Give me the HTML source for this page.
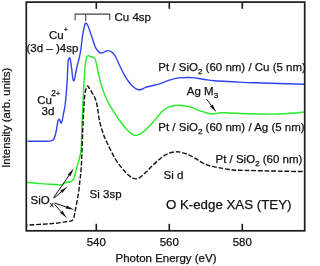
<!DOCTYPE html>
<html><head><meta charset="utf-8"><style>
html,body{margin:0;padding:0;background:#fff;width:307px;height:266px;overflow:hidden}
svg{display:block;will-change:transform}
text{stroke:#111;stroke-width:0.25}
text{font-family:"Liberation Sans",sans-serif;fill:#111}
</style></head><body>
<svg width="307" height="266" viewBox="0 0 307 266">
<defs><clipPath id="c"><rect x="26.5" y="2" width="278" height="229"/></clipPath></defs>
<g clip-path="url(#c)" fill="none" stroke-linejoin="round">
<path d="M27.50,141.20 C30.42,141.20 41.08,141.25 45.00,141.20 C48.92,141.15 49.58,141.18 51.00,140.90 C52.42,140.62 52.83,140.32 53.50,139.50 C54.17,138.68 54.53,137.48 55.00,136.00 C55.47,134.52 55.83,133.02 56.30,130.60 C56.77,128.18 57.37,123.38 57.80,121.50 C58.23,119.62 58.53,119.47 58.90,119.30 C59.27,119.13 59.62,119.83 60.00,120.50 C60.38,121.17 60.83,123.30 61.20,123.30 C61.57,123.30 61.82,122.12 62.20,120.50 C62.58,118.88 63.03,116.02 63.50,113.60 C63.97,111.18 64.55,109.27 65.00,106.00 C65.45,102.73 65.87,97.67 66.20,94.00 C66.53,90.33 66.77,87.67 67.00,84.00 C67.23,80.33 67.40,75.83 67.60,72.00 C67.80,68.17 67.92,63.37 68.20,61.00 C68.48,58.63 68.93,57.97 69.30,57.80 C69.67,57.63 70.00,58.13 70.40,60.00 C70.80,61.87 71.33,66.17 71.70,69.00 C72.07,71.83 72.32,75.07 72.60,77.00 C72.88,78.93 73.10,80.18 73.40,80.60 C73.70,81.02 73.92,81.27 74.40,79.50 C74.88,77.73 75.50,73.58 76.30,70.00 C77.10,66.42 78.45,61.33 79.20,58.00 C79.95,54.67 80.33,53.00 80.80,50.00 C81.27,47.00 81.53,43.33 82.00,40.00 C82.47,36.67 83.02,32.80 83.60,30.00 C84.18,27.20 84.85,24.03 85.50,23.20 C86.15,22.37 86.72,23.55 87.50,25.00 C88.28,26.45 89.28,29.35 90.20,31.90 C91.12,34.45 92.20,37.90 93.00,40.30 C93.80,42.70 94.33,44.68 95.00,46.30 C95.67,47.92 96.08,48.88 97.00,50.00 C97.92,51.12 99.50,52.57 100.50,53.00 C101.50,53.43 102.17,52.88 103.00,52.60 C103.83,52.32 104.58,51.63 105.50,51.30 C106.42,50.97 107.50,50.52 108.50,50.60 C109.50,50.68 110.57,51.17 111.50,51.80 C112.43,52.43 113.27,53.28 114.10,54.40 C114.93,55.52 115.72,56.93 116.50,58.50 C117.28,60.07 117.48,61.03 118.80,63.80 C120.12,66.57 122.95,72.40 124.40,75.10 C125.85,77.80 126.55,78.60 127.50,80.00 C128.45,81.40 129.10,82.33 130.10,83.50 C131.10,84.67 132.25,86.00 133.50,87.00 C134.75,88.00 136.35,89.08 137.60,89.50 C138.85,89.92 139.75,89.82 141.00,89.50 C142.25,89.18 143.60,88.15 145.10,87.60 C146.60,87.05 147.60,86.83 150.00,86.20 C152.40,85.57 156.28,84.80 159.50,83.80 C162.72,82.80 166.05,81.18 169.30,80.20 C172.55,79.22 175.72,78.35 179.00,77.90 C182.28,77.45 186.33,77.50 189.00,77.50 C191.67,77.50 192.37,77.57 195.00,77.90 C197.63,78.23 201.55,79.02 204.80,79.50 C208.05,79.98 209.63,80.42 214.50,80.80 C219.37,81.18 227.25,81.47 234.00,81.80 C240.75,82.13 243.17,82.38 255.00,82.80 C266.83,83.22 296.67,84.05 305.00,84.30" stroke="#2f44f0" stroke-width="1.4"/>
<path d="M26.50,182.30 C28.75,182.52 35.08,183.23 40.00,183.60 C44.92,183.97 52.58,184.27 56.00,184.50 C59.42,184.73 59.15,185.13 60.50,185.00 C61.85,184.87 62.90,184.23 64.10,183.70 C65.30,183.17 66.72,182.05 67.70,181.80 C68.68,181.55 69.17,182.43 70.00,182.20 C70.83,181.97 71.95,181.30 72.70,180.40 C73.45,179.50 73.97,178.30 74.50,176.80 C75.03,175.30 75.45,173.20 75.90,171.40 C76.35,169.60 76.55,168.40 77.20,166.00 C77.85,163.60 79.13,160.00 79.80,157.00 C80.47,154.00 80.85,153.33 81.20,148.00 C81.55,142.67 81.50,134.67 81.90,125.00 C82.30,115.33 83.07,99.78 83.60,90.00 C84.13,80.22 84.60,71.72 85.10,66.30 C85.60,60.88 86.07,59.28 86.60,57.50 C87.13,55.72 87.65,55.77 88.30,55.60 C88.95,55.43 89.68,56.20 90.50,56.50 C91.32,56.80 92.37,56.82 93.20,57.40 C94.03,57.98 94.65,57.40 95.50,60.00 C96.35,62.60 97.33,68.83 98.30,73.00 C99.27,77.17 100.22,81.33 101.30,85.00 C102.38,88.67 103.43,91.70 104.80,95.00 C106.17,98.30 107.97,101.95 109.50,104.80 C111.03,107.65 112.25,109.40 114.00,112.10 C115.75,114.80 117.98,118.23 120.00,121.00 C122.02,123.77 124.27,126.67 126.10,128.70 C127.93,130.73 129.77,132.18 131.00,133.20 C132.23,134.22 132.67,134.43 133.50,134.80 C134.33,135.17 135.08,135.42 136.00,135.40 C136.92,135.38 137.92,135.18 139.00,134.70 C140.08,134.22 141.33,133.37 142.50,132.50 C143.67,131.63 144.25,131.22 146.00,129.50 C147.75,127.78 151.00,124.40 153.00,122.20 C155.00,120.00 156.37,118.20 158.00,116.30 C159.63,114.40 161.02,112.32 162.80,110.80 C164.58,109.28 166.63,108.08 168.70,107.20 C170.77,106.32 173.32,105.83 175.20,105.50 C177.08,105.17 177.57,104.97 180.00,105.20 C182.43,105.43 186.55,105.98 189.80,106.90 C193.05,107.82 196.63,109.68 199.50,110.70 C202.37,111.72 204.72,112.45 207.00,113.00 C209.28,113.55 211.53,113.93 213.20,114.00 C214.87,114.07 215.70,113.60 217.00,113.40 C218.30,113.20 219.67,112.92 221.00,112.80 C222.33,112.68 221.83,112.58 225.00,112.70 C228.17,112.82 232.17,113.27 240.00,113.50 C247.83,113.73 263.67,114.13 272.00,114.10 C280.33,114.07 284.50,113.67 290.00,113.30 C295.50,112.93 302.50,112.13 305.00,111.90" stroke="#26ec26" stroke-width="1.4"/>
<path d="M26.50,225.20 C30.42,224.95 44.20,224.13 50.00,223.70 C55.80,223.27 58.48,222.97 61.30,222.60 C64.12,222.23 65.22,221.78 66.90,221.50 C68.58,221.22 70.27,221.47 71.40,220.90 C72.53,220.33 73.03,219.97 73.70,218.10 C74.37,216.23 74.65,213.55 75.40,209.70 C76.15,205.85 77.43,199.95 78.20,195.00 C78.97,190.05 79.50,184.50 80.00,180.00 C80.50,175.50 80.87,173.00 81.20,168.00 C81.53,163.00 81.67,158.00 82.00,150.00 C82.33,142.00 82.73,129.17 83.20,120.00 C83.67,110.83 84.12,100.62 84.80,95.00 C85.48,89.38 86.52,87.38 87.30,86.30 C88.08,85.22 88.63,87.30 89.50,88.50 C90.37,89.70 91.58,91.92 92.50,93.50 C93.42,95.08 94.28,96.25 95.00,98.00 C95.72,99.75 96.30,101.83 96.80,104.00 C97.30,106.17 97.63,108.67 98.00,111.00 C98.37,113.33 98.58,115.67 99.00,118.00 C99.42,120.33 99.83,122.50 100.50,125.00 C101.17,127.50 102.22,130.72 103.00,133.00 C103.78,135.28 103.15,134.37 105.20,138.70 C107.25,143.03 112.17,153.70 115.30,159.00 C118.43,164.30 121.72,167.75 124.00,170.50 C126.28,173.25 127.50,174.22 129.00,175.50 C130.50,176.78 131.83,177.63 133.00,178.20 C134.17,178.77 134.83,179.05 136.00,178.90 C137.17,178.75 138.23,178.52 140.00,177.30 C141.77,176.08 144.60,173.48 146.60,171.60 C148.60,169.72 150.12,167.83 152.00,166.00 C153.88,164.17 156.23,162.07 157.90,160.60 C159.57,159.13 160.57,158.23 162.00,157.20 C163.43,156.17 164.92,155.18 166.50,154.40 C168.08,153.62 169.75,152.93 171.50,152.50 C173.25,152.07 175.25,151.80 177.00,151.80 C178.75,151.80 180.05,152.00 182.00,152.50 C183.95,153.00 186.53,153.85 188.70,154.80 C190.87,155.75 192.83,156.95 195.00,158.20 C197.17,159.45 199.37,161.08 201.70,162.30 C204.03,163.52 206.40,164.65 209.00,165.50 C211.60,166.35 214.13,166.77 217.30,167.40 C220.47,168.03 224.22,168.82 228.00,169.30 C231.78,169.78 227.17,169.92 240.00,170.30 C252.83,170.68 294.17,171.38 305.00,171.60" stroke="#111" stroke-width="1.4" stroke-dasharray="4.8,1.8" stroke-dashoffset="3.5"/>
</g>
<rect x="26.3" y="2.1" width="278.4" height="228.7" fill="none" stroke="#1a1a1a" stroke-width="1.7"/>
<g stroke="#1a1a1a" stroke-width="1.6">
<line x1="96.3" y1="2.1" x2="96.3" y2="8.8"/>
<line x1="169.3" y1="2.1" x2="169.3" y2="8.8"/>
<line x1="242.3" y1="2.1" x2="242.3" y2="8.8"/>
<line x1="96.3" y1="231" x2="96.3" y2="223.8"/>
<line x1="169.3" y1="231" x2="169.3" y2="223.8"/>
<line x1="242.3" y1="231" x2="242.3" y2="223.8"/>
</g>
<g stroke="#444" stroke-width="1.1" fill="none">
<path d="M75.1,20.3 V14.1 H109.7 V20.3"/>
<line x1="85.7" y1="14.1" x2="85.7" y2="20.9"/>
</g>
<g font-size="11.5">
<text x="114.5" y="20.8">Cu 4sp</text>
<text x="49" y="39.3">Cu</text>
<text x="64.1" y="31.8" font-size="6.5">+</text>
<text x="26.5" y="51.8">(3d – )4sp</text>
<text x="37.3" y="103.5">Cu</text>
<text x="51.3" y="96.2" font-size="8.4">2<tspan font-size="7">+</tspan></text>
<text x="41.5" y="115">3d</text>
<text x="158.3" y="71.3">Pt / SiO<tspan font-size="8" dy="2.9">2</tspan><tspan dy="-2.9"> (60 nm) / Cu (5 nm)</tspan></text>
<text x="186.8" y="94.7">Ag M<tspan font-size="8" dy="3">3</tspan></text>
<text x="158.3" y="131.2">Pt / SiO<tspan font-size="8" dy="2.9">2</tspan><tspan dy="-2.9"> (60 nm) / Ag (5 nm)</tspan></text>
<text x="215.5" y="163">Pt / SiO<tspan font-size="8" dy="2.9">2</tspan><tspan dy="-2.9"> (60 nm)</tspan></text>
<text x="163.6" y="178.5">Si d</text>
<text x="89.6" y="198.3">Si 3sp</text>
<text x="30.5" y="203.7">SiO<tspan font-size="8" dy="3.5">x</tspan></text>
<text x="96.3" y="246" text-anchor="middle">540</text>
<text x="169.3" y="246" text-anchor="middle">560</text>
<text x="242.3" y="246" text-anchor="middle">580</text>
<text x="115.5" y="262">Photon Energy (eV)</text>
<text transform="translate(10,117.8) rotate(-90)" text-anchor="middle" font-size="11.4">Intensity (arb. units)</text>
</g>
<text x="165.9" y="209.4" font-size="13.3">O K-edge XAS (TEY)</text>
<g stroke="#111" stroke-width="1" fill="#111"><line x1="53.50" y1="197.80" x2="69.07" y2="175.29"/><polygon stroke="none" points="73.90,168.30 70.34,176.17 67.79,174.41"/><line x1="53.80" y1="198.30" x2="61.16" y2="191.95"/><polygon stroke="none" points="67.60,186.40 62.18,193.12 60.15,190.78"/><line x1="54.50" y1="203.00" x2="66.15" y2="206.96"/><polygon stroke="none" points="74.20,209.70 65.65,208.43 66.65,205.50"/><line x1="54.50" y1="204.40" x2="61.20" y2="211.80"/><polygon stroke="none" points="66.90,218.10 60.05,212.84 62.35,210.76"/><line x1="206.60" y1="99.20" x2="211.28" y2="105.41"/><polygon stroke="none" points="216.40,112.20 210.05,106.35 212.52,104.48"/></g>
</svg>
</body></html>
